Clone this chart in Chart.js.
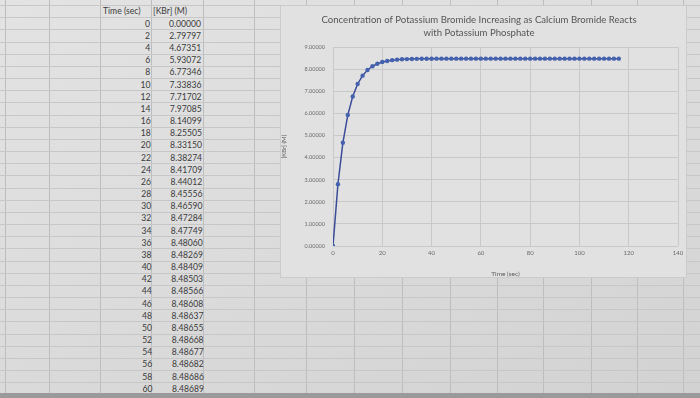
<!DOCTYPE html>
<html>
<head>
<meta charset="utf-8">
<script src="https://cdn.jsdelivr.net/npm/chart.js@4.4.1/dist/chart.umd.min.js"></script>
<style>
  body { margin: 0; width: 700px; height: 398px; overflow: hidden; position: relative;
         background: linear-gradient(160deg, #e3e3e3 0%, #dcdcdc 50%, #d2d2d2 100%);
         font-family: Lato, "Open Sans", sans-serif; }
  .vl { position: absolute; top: 0; width: 1px; height: 398px; background: #bdbdbd; }
  .hl { position: absolute; left: 0; width: 700px; height: 1px; background: #c7c7c7; }
  .cell { position: absolute; font-size: 8.6px; color: #3a3a3a; line-height: 12px; white-space: nowrap; }
  #chartBox { position: absolute; left: 280px; top: 5px; width: 407px; height: 273px;
              background: #e1e1e1; border: 1px solid #cbcbcb; box-sizing: border-box; }
  #chartBox canvas { position: absolute; left: -1px; top: -1px; }
  #bottomBand { position: absolute; left: 0; top: 393px; width: 700px; height: 5px; background: #9a9a9a; }
</style>
</head>
<body>
<div id="sheet"></div>
<div id="chartBox"><canvas id="myChart" width="407" height="273"></canvas></div>
<div id="bottomBand"></div>
<script>
const times = [0, 2, 4, 6, 8, 10, 12, 14, 16, 18, 20, 22, 24, 26, 28, 30, 32, 34, 36, 38, 40,
  42, 44, 46, 48, 50, 52, 54, 56, 58, 60, 62, 64, 66, 68, 70, 72, 74, 76, 78, 80,
  82, 84, 86, 88, 90, 92, 94, 96, 98, 100, 102, 104, 106, 108, 110, 112, 114, 116];
const kbr = [0.00000, 2.79797, 4.67351, 5.93072, 6.77346, 7.33836, 7.71702, 7.97085, 8.14099, 8.25505,
  8.33150, 8.38274, 8.41709, 8.44012, 8.45556, 8.46590, 8.47284, 8.47749, 8.48060, 8.48269,
  8.48409, 8.48503, 8.48566, 8.48608, 8.48637, 8.48655, 8.48668, 8.48677, 8.48682, 8.48686,
  8.48689, 8.48691, 8.48692, 8.48693, 8.48694, 8.48694, 8.48695, 8.48695, 8.48695, 8.48696,
  8.48696, 8.48696, 8.48696, 8.48696, 8.48696, 8.48696, 8.48696, 8.48696, 8.48696, 8.48696,
  8.48696, 8.48696, 8.48696, 8.48696, 8.48696, 8.48696, 8.48696, 8.48696, 8.48696];
const yTicks = [0, 1, 2, 3, 4, 5, 6, 7, 8, 9];
const titleLines = ['Concentration of Potassium Bromide Increasing as Calcium Bromide Reacts',
  'with Potassium Phosphate'];

// spreadsheet grid
const sheet = document.getElementById('sheet');
const colLines = [5, 49, 100, 151, 203, 254, 306, 354, 402, 450, 497, 543, 591, 637, 683];
colLines.forEach(x => {
  const d = document.createElement('div');
  d.className = 'vl'; d.style.left = x + 'px';
  sheet.appendChild(d);
});
for (let k = 0; k < 34; k++) {
  const d = document.createElement('div');
  d.className = 'hl'; d.style.top = (5 + k * 12.17).toFixed(1) + 'px';
  sheet.appendChild(d);
}

function addCell(text, x, y, align) {
  const d = document.createElement('div');
  d.className = 'cell';
  d.textContent = text;
  d.style.top = (y - 6) + 'px';
  if (align === 'right') { d.style.right = (700 - x) + 'px'; } else { d.style.left = x + 'px'; }
  sheet.appendChild(d);
}
addCell('Time (sec)', 103, 11, 'left');
addCell('[KBr] (M)', 153, 11, 'left');
for (let i = 0; i <= 31; i++) {
  const y = 23.7 + i * 12.17;
  addCell(String(times[i]), 150 + i * 0.08, y, 'right');
  addCell(kbr[i].toFixed(5), 201 + i * 0.1, y, 'right');
}

const ctx = document.getElementById('myChart').getContext('2d');
const myChart = new Chart(ctx, {
  type: 'scatter',
  data: {
    datasets: [{
      label: '[KBr] (M)',
      data: times.map((t, i) => ({ x: t, y: kbr[i] })),
      showLine: true,
      borderColor: '#3a4c98',
      borderWidth: 1.5,
      pointRadius: 2.2,
      pointBackgroundColor: '#4562ae',
      pointBorderColor: '#4562ae',
      pointBorderWidth: 0,
      tension: 0
    }]
  },
  options: {
    responsive: false,
    animation: false,
    layout: { padding: { left: 0, right: 9, top: 0, bottom: 0 } },
    plugins: {
      legend: { display: false },
      tooltip: { enabled: false },
      title: {
        display: true,
        text: titleLines,
        color: '#555555',
        font: { family: 'Lato', size: 9.6, weight: 'normal', lineHeight: 1.37 },
        padding: { top: 8.5, bottom: 7.5 }
      }
    },
    scales: {
      x: {
        type: 'linear', min: 0, max: 140,
        ticks: { stepSize: 20, color: '#6a6a6a', font: { family: 'Lato', size: 6 }, padding: 3 },
        grid: { color: '#c9c9c9', drawTicks: false },
        border: { display: false },
        title: { display: true, text: 'Time (sec)', color: '#5a5a5a', font: { family: 'Lato', size: 6.5 }, padding: { top: 2, bottom: 0 } },
        afterFit: s => { s.height = 32; }
      },
      y: {
        min: 0, max: 9,
        afterBuildTicks: s => { s.ticks = yTicks.map(v => ({ value: v })); },
        ticks: { color: '#6a6a6a', font: { family: 'Lato', size: 5.5 }, padding: 8, callback: v => Number(v).toFixed(5) },
        grid: { color: '#c9c9c9', drawTicks: false },
        border: { display: false },
        title: { display: true, text: '[KBr] (M)', color: '#5a5a5a', font: { family: 'Lato', size: 6 }, padding: 0 },
        afterFit: s => { s.width = 53; }
      }
    }
  }
});
</script>
</body>
</html>
